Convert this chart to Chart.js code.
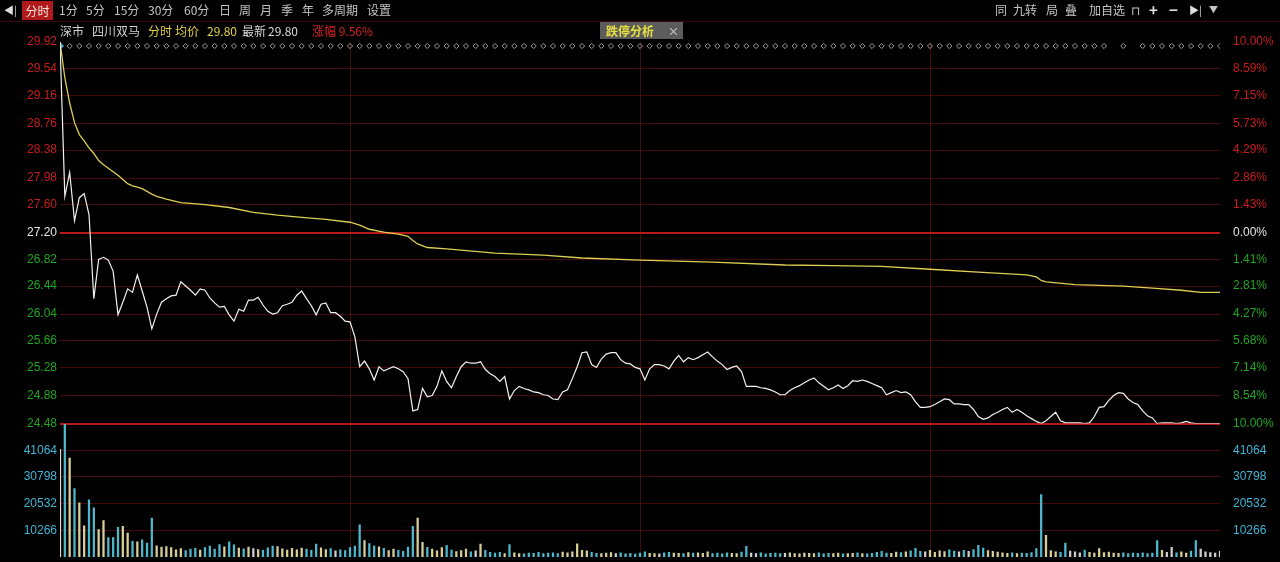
<!DOCTYPE html>
<html lang="zh-CN"><head><meta charset="utf-8">
<script src="https://cdn.jsdelivr.net/npm/chart.js@4.4.1/dist/chart.umd.min.js"></script>
<style>
html,body{margin:0;padding:0;background:#000;}
#wrap{position:relative;width:1280px;height:562px;background:#000;overflow:hidden;}
#c{position:absolute;left:0;top:0;}
.t{position:absolute;font-family:"Noto Sans CJK SC","Noto Sans",sans-serif;font-size:12px;line-height:16px;white-space:nowrap;color:#c4c4c4;}
.tb{top:2px;}
.inf{top:23px;}
#tab{position:absolute;left:22px;top:1px;width:31px;height:19px;background:#b01a1a;color:#f4e6dc;font-size:12px;line-height:19px;text-align:center;font-family:"Noto Sans CJK SC",sans-serif;}
#sep{position:absolute;left:0;top:21px;width:1280px;height:1px;background:#3c0707;}
#box{position:absolute;left:600px;top:22px;width:83px;height:17px;background:#5c5c5c;}
</style></head><body>
<div id="wrap">
<canvas id="c" width="1280" height="562"></canvas>
<div id="sep"></div>
<div class="t tb" style="left:4px;color:#e0e0e0;font-size:10px">◀|</div>
<div id="tab">分时</div>
<div class="t tb" style="left:59px">1分</div>
<div class="t tb" style="left:86px">5分</div>
<div class="t tb" style="left:114px">15分</div>
<div class="t tb" style="left:148px">30分</div>
<div class="t tb" style="left:184px">60分</div>
<div class="t tb" style="left:219px">日</div>
<div class="t tb" style="left:239px">周</div>
<div class="t tb" style="left:260px">月</div>
<div class="t tb" style="left:281px">季</div>
<div class="t tb" style="left:302px">年</div>
<div class="t tb" style="left:322px">多周期</div>
<div class="t tb" style="left:367px">设置</div>
<div class="t tb" style="left:995px">同</div>
<div class="t tb" style="left:1013px">九转</div>
<div class="t tb" style="left:1046px">局</div>
<div class="t tb" style="left:1065px">叠</div>
<div class="t tb" style="left:1089px">加自选</div>
<div class="t tb" style="left:1131px">⊓</div>
<div class="t tb" style="left:1149px;font-size:15px;font-weight:bold;color:#e0e0e0">+</div>
<div class="t tb" style="left:1169px;font-size:15px;font-weight:bold;color:#e0e0e0">−</div>
<div class="t tb" style="left:1189px;font-size:10px;color:#e0e0e0">▶|</div>
<div class="t tb" style="left:1209px;font-size:9px">▼</div>
<div class="t inf" style="left:60px;color:#d0d0d0">深市</div>
<div class="t inf" style="left:92px;color:#d0d0d0">四川双马</div>
<div class="t inf" style="left:148px;color:#e0d040">分时</div>
<div class="t inf" style="left:175px;color:#e0d040">均价</div>
<div class="t inf" style="left:207px;color:#e0d040">29.80</div>
<div class="t inf" style="left:242px;color:#d8d8d8">最新</div>
<div class="t inf" style="left:268px;color:#d8d8d8">29.80</div>
<div class="t inf" style="left:312px;color:#d42020">涨幅 9.56%</div>
<div id="box"></div>
<div class="t" style="left:606px;top:23px;color:#e8e040;font-weight:bold">跌停分析</div>
<div class="t" style="left:668px;top:23px;color:#e0e0e0;font-size:11px">×</div>
</div>
<script>
// ---- data ----
const minutes = Array.from({length: 241}, (_, i) => i); // 09:30 .. 15:00 minute index
const timeGridMinutes = [60, 120, 180];
const priceTicks = [29.92, 29.54, 29.16, 28.76, 28.38, 27.98, 27.60, 27.20, 26.82, 26.44, 26.04, 25.66, 25.28, 24.88, 24.48];
const percentLabels = ['10.00%','8.59%','7.15%','5.73%','4.29%','2.86%','1.43%','0.00%','1.41%','2.81%','4.27%','5.68%','7.14%','8.54%','10.00%'];
const volumeTicks = [10266, 20532, 30798, 41064];
const PRE_CLOSE = 27.20;
const LIMIT_UP = 29.92;
const LIMIT_DOWN = 24.48;
const VOL_PANEL_MAX = 51330;

const priceValues = [
29.92,27.72,28.06,27.37,27.70,27.76,27.46,26.26,26.82,26.85,
26.81,26.65,26.03,26.21,26.40,26.35,26.60,26.37,26.14,25.83,
26.04,26.21,26.26,26.30,26.31,26.50,26.44,26.38,26.31,26.40,
26.38,26.27,26.20,26.14,26.15,26.03,25.94,26.11,26.08,26.24,
26.24,26.28,26.17,26.08,26.04,26.06,26.16,26.18,26.21,26.31,
26.37,26.26,26.16,26.03,26.18,26.20,26.06,26.06,26.01,25.94,
25.93,25.72,25.29,25.37,25.26,25.10,25.29,25.23,25.26,25.29,
25.26,25.22,25.12,24.66,24.68,24.98,24.86,24.88,25.01,25.23,
25.08,24.99,25.15,25.29,25.36,25.34,25.34,25.36,25.25,25.19,
25.15,25.08,25.15,24.83,24.95,25.01,24.98,24.96,24.93,24.92,
24.89,24.88,24.83,24.82,24.93,24.96,25.12,25.29,25.49,25.50,
25.32,25.28,25.40,25.47,25.49,25.49,25.39,25.34,25.33,25.28,
25.26,25.10,25.26,25.32,25.32,25.30,25.26,25.37,25.45,25.36,
25.42,25.39,25.42,25.46,25.50,25.43,25.37,25.32,25.25,25.28,
25.30,25.22,25.01,25.01,25.01,24.99,24.98,24.96,24.93,24.89,
24.89,24.95,24.99,25.02,25.06,25.10,25.13,25.06,25.01,24.96,
24.99,25.03,24.98,25.02,25.09,25.08,25.10,25.08,25.05,25.02,
24.99,24.89,24.92,24.95,24.92,24.93,24.89,24.79,24.71,24.71,
24.72,24.75,24.79,24.83,24.82,24.76,24.76,24.75,24.75,24.68,
24.58,24.54,24.56,24.61,24.64,24.68,24.71,24.64,24.68,24.64,
24.59,24.55,24.51,24.48,24.52,24.58,24.64,24.52,24.49,24.49,
24.49,24.49,24.48,24.49,24.58,24.71,24.72,24.81,24.88,24.92,
24.91,24.83,24.78,24.75,24.66,24.59,24.56,24.48,24.49,24.49,
24.49,24.48,24.49,24.51,24.49,24.48,24.48,24.48,24.48,24.48,
24.48];

const avgMinutes = [0,1,2,3,4,5,6,7,8,9,10,11,12,13,14,15,16,17,18,19,20,22,25,30,35,40,45,50,55,60,62,64,67,70,72,73,74,76,80,90,100,108,120,135,150,160,170,180,190,200,202,203,204,210,220,226,232,236,240];
const avgValues = [29.92,29.41,29.05,28.77,28.60,28.51,28.41,28.33,28.23,28.17,28.12,28.07,28.02,27.96,27.90,27.87,27.85,27.83,27.79,27.75,27.72,27.68,27.63,27.60,27.56,27.49,27.45,27.42,27.39,27.35,27.31,27.25,27.21,27.18,27.15,27.09,27.04,26.99,26.97,26.91,26.88,26.84,26.81,26.78,26.74,26.73,26.72,26.68,26.64,26.60,26.57,26.52,26.50,26.46,26.44,26.41,26.38,26.35,26.35];

const volumeValues = [
41400,51000,38000,26300,20800,12000,22000,18900,10500,14000,
7500,7500,11400,11800,9200,6000,5800,6600,5400,15000,
4300,3800,4000,3600,2800,3200,2500,3000,3300,2700,
3600,4200,3000,4800,3900,5800,4700,3400,3100,3800,
3200,2900,2600,3500,4200,4000,3100,2700,3300,2800,
3400,3000,2600,5000,3500,2900,3200,2400,2800,2500,
3600,4200,12400,6300,5200,4200,3900,3300,2500,3000,
2600,2200,3800,11800,15000,5600,3700,3000,2400,3600,
4500,2700,2100,2500,3000,2000,2400,5000,2600,1800,
1500,1800,1300,4800,1600,1300,1200,1500,1400,1800,
1300,1500,1600,1300,1900,1600,2000,5100,2600,2400,
1800,1400,1300,1500,1700,1300,1600,1200,1400,1100,
1500,2000,1400,1300,1200,1600,1800,1500,1400,1300,
1700,1500,1600,1400,2000,1300,1500,1200,1600,1400,
1300,1900,4100,1500,1300,1600,1200,1400,1500,1300,
1400,1600,1300,1200,1500,1400,1300,1600,1200,1400,
1300,1500,1200,1300,1400,1600,1300,1200,1400,1800,
2200,1500,1400,1900,1700,2000,2400,3300,2200,2000,
2600,1800,2400,2100,2800,2300,2000,2600,2200,2900,
4500,3400,2500,2200,1900,1600,1400,1600,1300,1500,
1400,1700,3200,24000,8300,2500,2000,1800,5400,2300,
2000,1600,2700,1800,1500,3200,1700,1900,1500,1400,
1600,1300,1500,1400,1600,1300,1500,6300,2600,1800,
3700,1600,2000,1500,2300,6300,3000,2000,1700,1500,
2200];

const eventMinutes = [2,4,6,8,10,12,14,16,18,20,22,24,26,28,30,32,34,36,38,40,42,44,46,48,50,52,54,56,58,60,
62,64,66,68,70,72,74,76,78,80,82,84,86,88,90,92,94,96,98,100,102,104,106,108,110,112,114,116,118,120,
122,124,126,128,130,132,134,136,138,140,142,144,146,148,150,152,154,156,158,160,162,164,166,168,170,172,174,176,178,180,
182,184,186,188,190,192,194,196,198,200,202,204,206,208,210,212,214,216,220,224,226,228,230,232,234,236,238,240];
const startEventMinutes = [0];

// ---- panel layout (price panel above volume panel) ----
const PRICE_H = 383, VOL_H = 134;
const MARKER_ROW = LIMIT_UP - (LIMIT_UP - LIMIT_DOWN) * 4 / PRICE_H;

const RED = '#c81c1c', GREEN = '#1fa51f', WHITE = '#e6e6e6', CYAN = '#3fb6d6';
const GRID = 'rgba(125,18,18,0.55)';
const FONT = {family: '"Liberation Sans", Arial, sans-serif', size: 12};

function priceColor(v) {
  if (v > PRE_CLOSE + 1e-9) return RED;
  if (v < PRE_CLOSE - 1e-9) return GREEN;
  return WHITE;
}
function volColor(ctx) {
  const i = ctx.dataIndex;
  if (i === 0) return '#e8d0d0';
  const d = priceValues[i] - priceValues[i - 1];
  if (d > 1e-9) return '#d8cf98';
  if (d < -1e-9) return '#4fb8cc';
  return '#d0d0d0';
}
const fixY = w => s => { s.width = w; s.paddingTop = 0; s.paddingBottom = 0; };

new Chart(document.getElementById('c'), {
  type: 'line',
  data: {
    labels: minutes,
    datasets: [
      {label: '价格', data: priceValues, yAxisID: 'y', borderColor: '#f2f2f2', borderWidth: 1.2, pointRadius: 0, tension: 0, order: 0},
      {label: '均价', data: avgMinutes.map((m, k) => ({x: m, y: avgValues[k]})), yAxisID: 'y', borderColor: '#dccf52', borderWidth: 1.3, pointRadius: 0, tension: 0, order: 1},
      {label: '事件', data: eventMinutes.map(m => ({x: m, y: MARKER_ROW})), yAxisID: 'y', showLine: false, pointStyle: 'rectRot', pointRadius: 2.6, pointBorderWidth: 1, pointBorderColor: '#9c9c9c', pointBackgroundColor: 'rgba(0,0,0,0)', order: 2},
      {label: '开盘', data: startEventMinutes.map(m => ({x: m, y: MARKER_ROW})), yAxisID: 'y', showLine: false, pointStyle: 'rectRot', pointRadius: 4, pointBorderWidth: 0, pointBackgroundColor: '#4aa8e8', order: 2},
      {type: 'bar', label: '成交量', data: volumeValues, yAxisID: 'yv', backgroundColor: volColor, barThickness: 1.6, order: 3}
    ]
  },
  options: {
    responsive: false, animation: false, devicePixelRatio: 1, events: [],
    layout: {padding: {top: 42, bottom: 3, left: 0, right: 0}},
    plugins: {legend: {display: false}, tooltip: {enabled: false}},
    scales: {
      x: {
        type: 'linear', min: 0, max: 240, position: 'bottom', offset: false,
        afterBuildTicks: s => { s.ticks = timeGridMinutes.map(v => ({value: v})); },
        afterFit: s => { s.height = 0; s.paddingLeft = 0; s.paddingRight = 0; },
        ticks: {display: false},
        grid: {color: 'rgba(120,18,18,0.6)', drawTicks: false, offset: false},
        border: {display: false}
      },
      y: {
        position: 'left', stack: 'L', stackWeight: PRICE_H, weight: 1,
        min: LIMIT_DOWN, max: LIMIT_UP,
        afterBuildTicks: s => { s.ticks = priceTicks.map(v => ({value: v})); },
        afterFit: fixY(60),
        ticks: {autoSkip: false, padding: 3, font: FONT, color: c => priceColor(c.tick.value), callback: v => v.toFixed(2)},
        grid: {
          drawTicks: false,
          color: c => { const v = c.tick && c.tick.value; if (v === LIMIT_UP) return 'rgba(0,0,0,0)'; if (v === PRE_CLOSE || v === LIMIT_DOWN) return '#b81a1a'; return GRID; },
          lineWidth: c => { const v = c.tick && c.tick.value; return (v === PRE_CLOSE || v === LIMIT_DOWN) ? 2 : 1; }
        },
        border: {display: false}
      },
      yv: {
        position: 'left', stack: 'L', stackWeight: VOL_H, weight: 0,
        min: 0, max: VOL_PANEL_MAX,
        afterBuildTicks: s => { s.ticks = volumeTicks.map(v => ({value: v})); },
        afterFit: fixY(60),
        ticks: {autoSkip: false, padding: 3, font: FONT, color: CYAN, callback: v => String(v)},
        grid: {drawTicks: false, color: GRID},
        border: {display: false}
      },
      yp: {
        position: 'right', stack: 'R', stackWeight: PRICE_H, weight: 0,
        min: LIMIT_DOWN, max: LIMIT_UP,
        afterBuildTicks: s => { s.ticks = priceTicks.map(v => ({value: v})); },
        afterFit: fixY(60),
        ticks: {autoSkip: false, padding: 5, font: FONT, color: c => priceColor(c.tick.value), callback: v => percentLabels[priceTicks.indexOf(v)]},
        grid: {display: false},
        border: {display: false}
      },
      yvr: {
        position: 'right', stack: 'R', stackWeight: VOL_H, weight: 0,
        min: 0, max: VOL_PANEL_MAX,
        afterBuildTicks: s => { s.ticks = volumeTicks.map(v => ({value: v})); },
        afterFit: fixY(60),
        ticks: {autoSkip: false, padding: 5, font: FONT, color: CYAN, callback: v => String(v)},
        grid: {display: false},
        border: {display: false}
      }
    }
  }
});
</script>
</body></html>
